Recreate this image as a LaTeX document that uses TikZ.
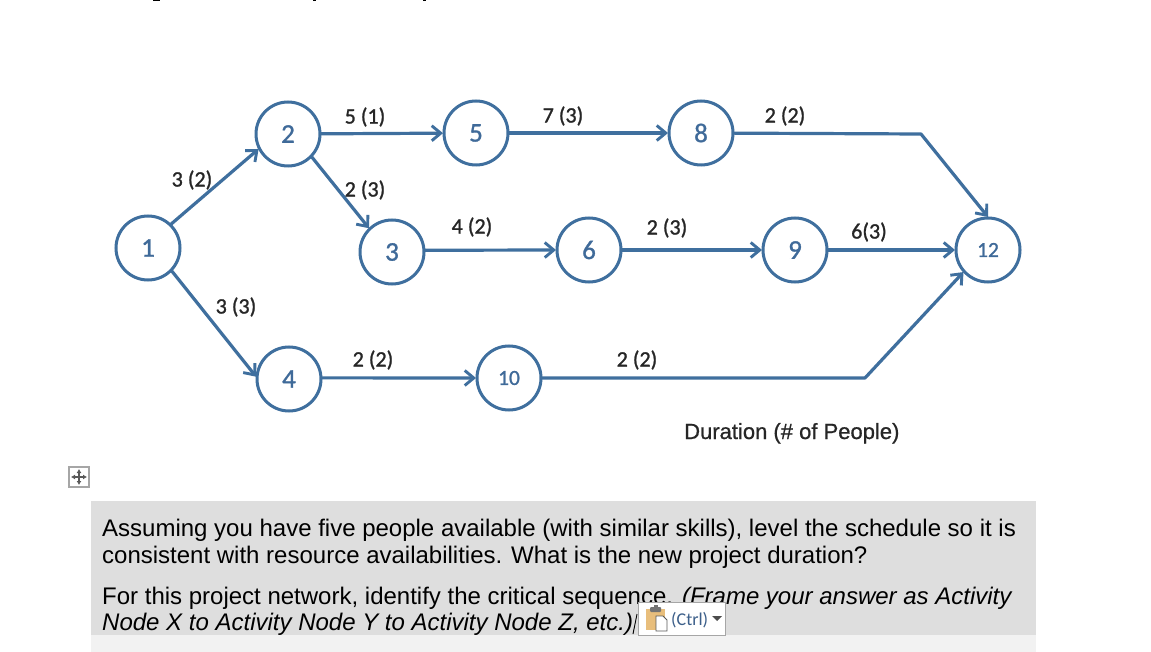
\documentclass[tikz,border=0pt]{standalone}
\usepackage{fontspec}
\setmainfont{Liberation Sans}
\newfontfamily\carl{Carlito}
\newfontfamily\carlheavy[FakeBold=1.1]{Carlito}
\newfontfamily\arialheavy[FakeBold=0.8]{Liberation Sans}
\usetikzlibrary{arrows.meta}
\definecolor{netblue}{HTML}{3F6F9E}
\definecolor{netnum}{HTML}{3F6A99}
\definecolor{band}{HTML}{DEDEDE}
\definecolor{bandlow}{HTML}{F2F2F2}
\definecolor{handle}{HTML}{A6A6A6}
\definecolor{iconfill}{HTML}{E8BE7C}
\definecolor{ctrltext}{HTML}{3C5F8A}
\tikzset{
  x=1pt,y=-1pt,
  event/.style={circle,draw=netblue,line width=3pt,minimum size=64pt,inner sep=0pt,outer sep=1pt,fill=white,text=netnum,font=\carlheavy\fontsize{27}{27}\selectfont},
  eventsmall/.style={event,font=\carlheavy\fontsize{21.5}{21.5}\selectfont},
  link/.style={draw=netblue,line width=3.2pt,-{Straight Barb[length=9pt,width=15pt,line width=2.9pt]}},
  edgelabel/.style={inner sep=0pt,text=black!85,font=\carlheavy\fontsize{22}{22}\selectfont},
  question/.style={anchor=base west,inner sep=0pt,text=black,font=\fontsize{24}{24}\selectfont},
}
\begin{document}
\begin{tikzpicture}
\useasboundingbox (0,0) rectangle (1151,652);
\fill[white] (0,0) rectangle (1151,652);
% cut-off descenders at the top edge
\fill[black] (153,0) rectangle (160,1);
\fill[black] (313,0) rectangle (316,1.5);
\fill[black] (423,0) rectangle (426,1.5);
% events
\node[event] (n1) at (148,248) {1};
\node[event] (n2) at (288,134) {2};
\node[event] (n3) at (392,252) {3};
\node[event] (n4) at (289,379) {4};
\node[event] (n5) at (476,133) {5};
\node[event] (n6) at (589,250) {6};
\node[event] (n8) at (701,133) {8};
\node[event] (n9) at (795,250) {9};
\node[eventsmall] (n10) at (509,378) {10};
\node[eventsmall] (n12) at (988,250) {12};
\coordinate (b8) at (921,134);
\coordinate (b10) at (865,378);
% links
\draw[link] (n1.46) -- (n2.207);
\draw[link] (n1.-44) -- (n4.176);
\draw[link] (n2.-44) -- (n3.134);
\draw[link] (n2) -- (n5);
\draw[link] (n5) -- (n8);
\draw[link,line join=round] (n8) -- (b8) -- (n12.north);
\draw[link] (n3.3) -- (n6.west);
\draw[link] (n6) -- (n9);
\draw[link] (n9) -- (n12);
\draw[link] (n4.2) -- (n10.west);
\draw[link,line join=round] (n10) -- (b10) -- (n12.222);
% labels
\node[edgelabel] (l12) at (192,180) {3 (2)};
\node[edgelabel] (l14) at (236,307) {3 (3)};
\node[edgelabel] (l25) at (365,117) {5 (1)};
\node[edgelabel] (l23) at (365,190) {2 (3)};
\node[edgelabel] (l58) at (563,116) {7 (3)};
\node[edgelabel] (l812) at (785,116) {2 (2)};
\node[edgelabel] (l36) at (472,227) {4 (2)};
\node[edgelabel] (l69) at (667,228) {2 (3)};
\node[edgelabel] (l912) at (869,232) {6(3)};
\node[edgelabel] (l410) at (373,360) {2 (2)};
\node[edgelabel] (l1012) at (637,360) {2 (2)};
\node[edgelabel,font=\arialheavy\fontsize{22}{22}\selectfont,anchor=base west] (dur) at (684,439) {Duration (\# of People)};
% move handle
\node[draw=handle,line width=1.6pt,fill=white,minimum size=20.5pt,inner sep=0pt] (mv) at (79,477) {};
\draw[black!65,line width=1.3pt,{Latex[length=4pt,width=5pt]}-{Latex[length=4pt,width=5pt]}] (71,477) -- (87,477);
\draw[black!65,line width=1.3pt,{Latex[length=4pt,width=5pt]}-{Latex[length=4pt,width=5pt]}] (79,469) -- (79,485);
% question band
\fill[bandlow] (91,635) rectangle (1036,652);
\fill[band] (91,501) rectangle (1036,635);
\node[question] (q1) at (102,536) {Assuming you have five people available (with similar skills), level the schedule so it is};
\node[question] (q2) at (102,563) {consistent with resource availabilities. What is the new project duration?};
\node[question] (q3) at (102,604) {For this project network, identify the critical sequence. \textit{(Frame your answer as Activity}};
\node[question] (q4) at (102,630) {\textit{Node X to Activity Node Y to Activity Node Z, etc.)}};
% paste button
\draw[black,line width=0.9pt] (633,634) -- (637,614);
\node[draw=handle,line width=1pt,fill=white,anchor=north west,minimum width=87pt,minimum height=33pt,inner sep=0pt] (btn) at (638,601.5) {};
\fill[iconfill] (646,609) rectangle (665,630);
\fill[black!55,rounded corners=1pt] (650,607) rectangle (661,612);
\fill[black!55] (653.5,604.5) rectangle (657.5,608);
\filldraw[draw=black!65,fill=white,line width=0.9pt] (656,616) -- (663,616) -- (667,620) -- (667,631) -- (656,631) -- cycle;
\node[anchor=base west,inner sep=0pt,text=ctrltext,font=\carl\fontsize{18}{18}\selectfont] (ctl) at (671,625) {(Ctrl)};
\fill[black!70] (712,616) -- (722,616) -- (717,621) -- cycle;
\end{tikzpicture}
\end{document}
